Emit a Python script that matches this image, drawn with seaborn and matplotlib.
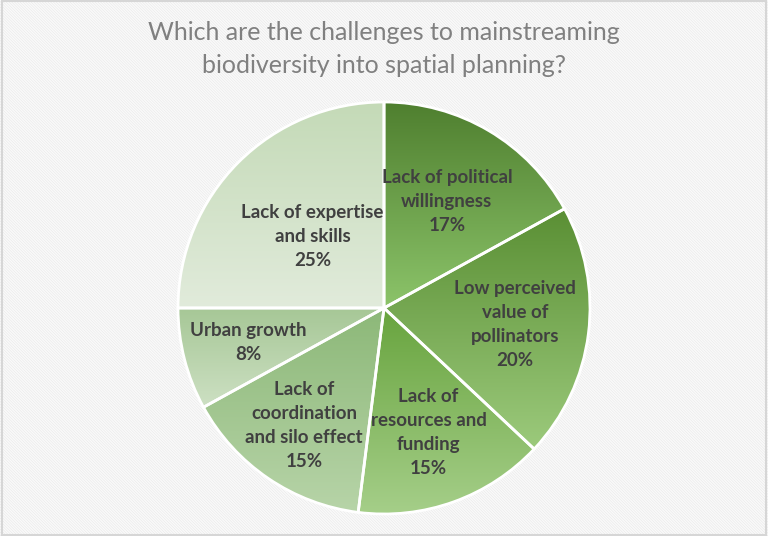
import numpy as np
import seaborn as sns
import matplotlib.pyplot as plt
from matplotlib.colors import LinearSegmentedColormap
from matplotlib.patches import Rectangle

# data
categories = ["Lack of political\nwillingness",
              "Low perceived\nvalue of\npollinators",
              "Lack of\nresources and\nfunding",
              "Lack of\ncoordination\nand silo effect",
              "Urban growth",
              "Lack of expertise\nand skills"]
shares = [17, 20, 15, 15, 8, 25]

# gradient colours (top, bottom) per slice
top_colors = ["#4f7f2f", "#5a8f34", "#68a43e", "#8cb878", "#a6c796", "#c4dab7"]
bottom_colors = ["#8cc46a", "#9cca7c", "#a6cf8a", "#b7d4a8", "#cde0c3", "#e1ebdb"]
label_radius = [0.60, 0.64, 0.64, 0.69, 0.68, 0.49]

sns.set_theme(style="white")
plt.rcParams["font.family"] = ["Lato", "DejaVu Sans"]
plt.rcParams["hatch.linewidth"] = 1.0

fig = plt.figure(figsize=(7.68, 5.36), dpi=100)
fig.patch.set_facecolor("#e8e8e8")
bg = Rectangle((0, 0), 1, 1, transform=fig.transFigure, facecolor="#e8e8e8",
               edgecolor="#fafafa", hatch="\\" * 12, lw=0.01, zorder=-10)
fig.patches.append(bg)
border = Rectangle((0.002, 0.002), 0.996, 0.996, transform=fig.transFigure,
                   facecolor="none", edgecolor="#d6d6d6", lw=1.5, zorder=-9)
fig.patches.append(border)

fig.text(0.5, 1 - 21 / 536, "Which are the challenges to mainstreaming\nbiodiversity into spatial planning?",
         ha="center", va="top", fontsize=18, color="#808080", linespacing=1.55)

ax = fig.add_axes([(384 - 206) / 768, (536 - 308 - 206) / 536, 412 / 768, 412 / 536])
ax.set_facecolor("none")
wedges, _ = ax.pie(shares, startangle=90, counterclock=False, radius=1,
                   wedgeprops=dict(edgecolor="white", linewidth=2))
ax.axis("off")

for i, w in enumerate(wedges):
    w.set_facecolor("none")
    verts = w.get_path().vertices
    x0, x1 = verts[:, 0].min(), verts[:, 0].max()
    y0, y1 = verts[:, 1].min(), verts[:, 1].max()
    cmap = LinearSegmentedColormap.from_list("g%d" % i, [bottom_colors[i], top_colors[i]])
    grad = np.linspace(0, 1, 256).reshape(-1, 1)
    im = ax.imshow(grad, cmap=cmap, origin="lower", extent=[x0, x1, y0, y1],
                   aspect="auto", zorder=0.5, interpolation="bilinear")
    im.set_clip_path(w)
    w.set_zorder(1)

    mid = np.deg2rad((w.theta1 + w.theta2) / 2)
    r = label_radius[i]
    ax.text(r * np.cos(mid), r * np.sin(mid), f"{categories[i]}\n{shares[i]}%",
            ha="center", va="center", fontsize=13.5, fontweight="bold",
            color="#404040", linespacing=1.5, zorder=2)

ax.set_xlim(-1, 1)
ax.set_ylim(-1, 1)
fig.savefig("out.png", dpi=100, facecolor=fig.get_facecolor())
